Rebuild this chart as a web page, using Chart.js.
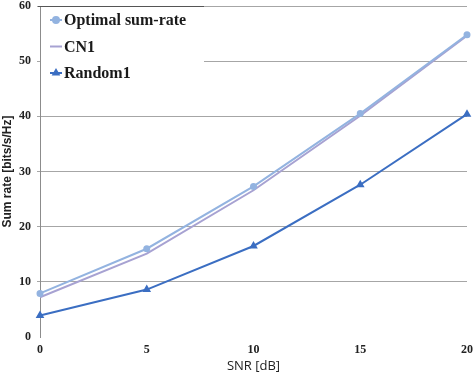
<!DOCTYPE html>
<html>
<head>
<meta charset="utf-8">
<style>
  html, body { margin: 0; padding: 0; background: #fff; }
  #wrap { width: 474px; height: 374px; }
</style>
<script src="https://cdn.jsdelivr.net/npm/chart.js@4/dist/chart.umd.min.js"></script>
</head>
<body>
<div id="wrap"><canvas id="rate"></canvas></div>
<script>
// values
var snr = [0, 5, 10, 15, 20];
var optimalRate = [7.9, 16.0, 27.3, 40.5, 54.8];
var cn1Rate = [7.2, 15.1, 26.6, 40.1, 54.6];
var random1Rate = [3.9, 8.6, 16.5, 27.6, 40.4];
var seriesNames = ['Optimal sum-rate', 'CN1', 'Random1'];

function pts(ys) {
    return snr.map(function(x, i) { return {x: x, y: ys[i]}; });
}

// legend sitting inside the plot, on a white box, like the original
var boxLegend = {
    id: 'boxLegend',
    afterDraw: function(chart) {
        var ctx = chart.ctx, area = chart.chartArea;
        var left = area.left + 1, top = area.top;
        ctx.save();
        ctx.fillStyle = '#fff';
        ctx.fillRect(left, top - 1, 163, 79);
        ctx.strokeStyle = '#555';
        ctx.lineWidth = 1;
        ctx.beginPath();
        ctx.moveTo(area.left - 2, top + 0.5);
        ctx.lineTo(left + 163, top + 0.5);
        ctx.stroke();
        ctx.font = 'bold 16px "Liberation Serif", serif';
        ctx.textBaseline = 'middle';
        chart.data.datasets.forEach(function(ds, i) {
            var y = top + 14 + i * 26.5;
            var x0 = area.left + 10;
            ctx.strokeStyle = ds.borderColor;
            ctx.lineWidth = 2;
            ctx.beginPath();
            ctx.moveTo(x0, y);
            ctx.lineTo(x0 + 12, y);
            ctx.stroke();
            if (ds.pointStyle !== false) {
                ctx.fillStyle = ds.pointBackgroundColor;
                ctx.strokeStyle = ds.pointBackgroundColor;
                Chart.helpers.drawPoint(ctx, {
                    pointStyle: ds.pointStyle, radius: 3, rotation: 0, borderWidth: 1
                }, x0 + 6, y);
            }
            ctx.fillStyle = '#1a1a1a';
            ctx.fillText(ds.label, x0 + 14, y + 1);
        });
        ctx.restore();
    }
};

var ctx = document.getElementById('rate').getContext('2d');
var rateChart = new Chart(ctx, {
    type: 'line',
    data: {
        datasets: [{
            label: seriesNames[0],
            data: pts(optimalRate),
            borderColor: '#93b3e0',
            backgroundColor: '#93b3e0',
            pointBackgroundColor: '#93b3e0',
            borderWidth: 2,
            pointStyle: 'circle',
            pointRadius: 2.5
        }, {
            label: seriesNames[1],
            data: pts(cn1Rate),
            borderColor: '#a7a2d2',
            backgroundColor: '#a7a2d2',
            pointBackgroundColor: '#a7a2d2',
            borderWidth: 2,
            pointStyle: false,
            pointRadius: 0
        }, {
            label: seriesNames[2],
            data: pts(random1Rate),
            borderColor: '#3b6ec2',
            backgroundColor: '#3b6ec2',
            pointBackgroundColor: '#3b6ec2',
            borderWidth: 2,
            pointStyle: 'triangle',
            pointRadius: 3
        }]
    },
    options: {
        responsive: true,
        maintainAspectRatio: false,
        animation: false,
        clip: false,
        layout: { padding: { top: 4, right: 7, left: 0, bottom: 0 } },
        plugins: {
            legend: { display: false },
            tooltip: { enabled: false }
        },
        scales: {
            x: {
                type: 'linear',
                min: 0,
                max: 20,
                ticks: {
                    stepSize: 5,
                    padding: 6,
                    color: '#222',
                    font: { family: '"Liberation Serif", serif', size: 12, weight: 'bold' }
                },
                grid: { display: false, drawTicks: false },
                border: { display: false },
                title: {
                    display: true,
                    text: 'SNR [dB]',
                    color: '#222',
                    padding: { top: 1, bottom: 0 },
                    font: { family: '"Open Sans", sans-serif', size: 13 }
                },
                afterFit: function(s) {
                    s.height = 37;
                    s.paddingLeft = 0;
                    s.paddingRight = 0;
                }
            },
            y: {
                min: 0,
                max: 60,
                ticks: {
                    stepSize: 10,
                    padding: 6,
                    color: '#222',
                    font: { family: '"Liberation Serif", serif', size: 12, weight: 'bold' }
                },
                grid: {
                    color: function(c) { return c.tick && c.tick.value === 0 ? 'rgba(0,0,0,0)' : '#a6a6a6'; },
                    tickLength: 3
                },
                border: { color: '#8c8c8c' },
                title: {
                    display: true,
                    text: 'Sum rate [bits/s/Hz]',
                    color: '#222',
                    padding: { top: 0, bottom: 0 },
                    font: { family: '"Liberation Sans", sans-serif', size: 12, weight: 'bold' }
                },
                afterFit: function(s) {
                    s.width = 40;
                    s.paddingTop = 0;
                    s.paddingBottom = 0;
                }
            }
        }
    },
    plugins: [boxLegend]
});
</script>
</body>
</html>
